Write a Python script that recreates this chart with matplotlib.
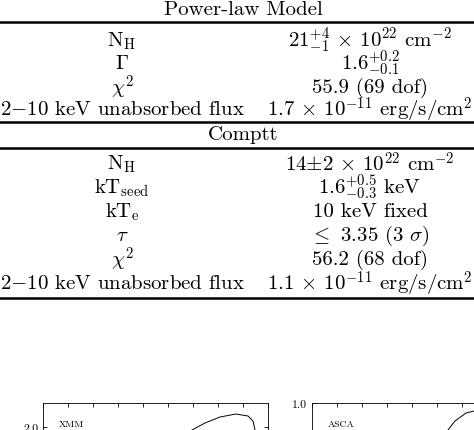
import matplotlib
matplotlib.use("Agg")
import matplotlib.pyplot as plt
import numpy as np

plt.rcParams['font.family'] = 'cmr10'
plt.rcParams['mathtext.fontset'] = 'cm'
plt.rcParams['axes.formatter.use_mathtext'] = True

W, H = 474, 431
fig = plt.figure(figsize=(W/100, H/100), dpi=100)

def fy(py): return 1 - py / H
def fx(px): return px / W

headers = [("Power-law Model", 10), ("Comptt", 135)]
left_labels = [r"N$_\mathrm{H}$", r"$\Gamma$", r"$\chi^2$", r"2$-$10 keV unabsorbed flux",
               r"N$_\mathrm{H}$", r"kT$_\mathrm{seed}$", r"kT$_\mathrm{e}$", r"$\tau$", r"$\chi^2$",
               r"2$-$10 keV unabsorbed flux"]
right_values = [r"21$^{+4}_{-1}$ $\times$ 10$^{22}$ cm$^{-2}$", r"1.6$^{+0.2}_{-0.1}$", "55.9 (69 dof)",
                r"1.7 $\times$ 10$^{-11}$ erg/s/cm$^2$",
                r"14$\pm$2 $\times$ 10$^{22}$ cm$^{-2}$", r"1.6$^{+0.5}_{-0.3}$ keV", "10 keV fixed",
                r"$\leq$ 3.35 (3 $\sigma$)", "56.2 (68 dof)", r"1.1 $\times$ 10$^{-11}$ erg/s/cm$^2$"]
row_y = [41, 64, 88, 110, 164, 188, 212, 236, 260, 284]
rule_y = [23, 123, 149, 299]

fs = 15
for t, y in headers:
    fig.text(fx(243), fy(y), t, ha='center', va='center', fontsize=fs)
for t, y in zip(left_labels, row_y):
    fig.text(fx(122), fy(y), t, ha='center', va='center', fontsize=fs)
for t, y in zip(right_values, row_y):
    fig.text(fx(370), fy(y), t, ha='center', va='center', fontsize=fs)
for y in rule_y:
    fig.add_artist(plt.Line2D([0, 1], [fy(y), fy(y)], color='black', lw=1.8, transform=fig.transFigure))

# bottom partial panels
left_px = [192, 205, 220, 236, 248, 253, 255]
left_py = [431, 424, 418, 415, 417, 422, 431]
right_px = [448, 455, 466, 474]
right_py = [431, 422, 414, 412]

def panel(x0, label, ylim, ytick, cx, cy):
    ax = fig.add_axes([fx(x0), fy(534), 225/W, 130/H])
    ax.set_xlim(0, 1)
    ax.set_ylim(*ylim)
    ax.set_xticks(np.linspace(0, 1, 10))
    ax.set_xticklabels([])
    ax.set_yticks([ytick])
    ax.set_yticklabels([f"{ytick:.1f}"], fontsize=8.5)
    ax.tick_params(direction='in', top=True, right=True, length=3, width=0.6)
    for s in ax.spines.values():
        s.set_linewidth(0.6)
    ax.text(0.07, ylim[1] - (ylim[1]-ylim[0]) * 21/130, label, fontsize=7, va='center')
    x = (np.array(cx) - x0) / 225
    y = ylim[1] - (np.array(cy) - 404) / 130 * (ylim[1] - ylim[0])
    ax.plot(x, y, color='black', lw=0.7)
    return ax

panel(43, "XMM", (1.117, 2.2), 2.0, left_px, left_py)
panel(312, "ASCA", (0.0, 1.0), 1.0, right_px, right_py)

fig.savefig("out.png", dpi=100)
